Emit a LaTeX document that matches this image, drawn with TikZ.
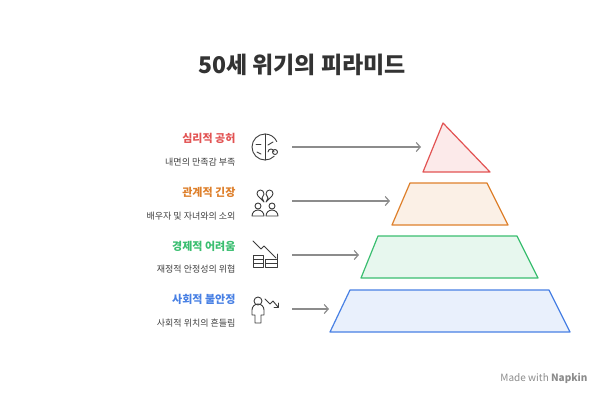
\documentclass[tikz,border=0pt]{standalone}
\usepackage{fontspec}
\setmainfont{Noto Sans CJK KR}
\usetikzlibrary{arrows.meta}
\definecolor{psyred}{RGB}{226,83,83}
\definecolor{relorange}{RGB}{222,128,44}
\definecolor{ecogreen}{RGB}{58,190,112}
\definecolor{socblue}{RGB}{72,128,228}
\definecolor{icongray}{RGB}{60,60,60}
\tikzset{
  heading/.style={anchor=east, font=\fontsize{11}{12}\selectfont\bfseries},
  subtext/.style={anchor=east, font=\fontsize{9}{10}\selectfont, text=black!75},
  pointer/.style={draw=black!45, line width=1.2pt, -{Straight Barb[length=4pt,width=9pt]}},
  icon/.style={draw=icongray, line width=0.9pt, line cap=round, line join=round}
}
\begin{document}
\begin{tikzpicture}[x=1pt,y=-1pt]
\useasboundingbox (0,0) rectangle (605,405);

\node [text=black!80] (title) at (302,65) {\fontsize{23}{26}\selectfont\bfseries 50세 위기의 피라미드};

% pyramid levels
\draw [psyred, line width=1.2pt, fill=psyred!12, line join=round]
  (443,123) -- (490,172) -- (423,172) -- cycle;
\draw [relorange, line width=1.2pt, fill=relorange!12, line join=round]
  (410,183) -- (487,183) -- (508,225) -- (392,225) -- cycle;
\draw [ecogreen, line width=1.2pt, fill=ecogreen!12, line join=round]
  (378,236) -- (517,236) -- (538,278) -- (361,278) -- cycle;
\draw [socblue, line width=1.2pt, fill=socblue!12, line join=round]
  (350,290) -- (549,290) -- (570,332) -- (330,332) -- cycle;

\coordinate (lvl1) at (421,147);
\coordinate (lvl2) at (390,201);
\coordinate (lvl3) at (359,255);
\coordinate (lvl4) at (329,309);

% labels
\node [heading, text=psyred] (psy) at (239,138) {심리적 공허};
\node [subtext] (psysub) at (239,162) {내면의 만족감 부족};
\node [heading, text=relorange] (rel) at (239,192) {관계적 긴장};
\node [subtext] (relsub) at (239,216) {배우자 및 자녀와의 소외};
\node [heading, text=ecogreen] (eco) at (239,246) {경제적 어려움};
\node [subtext] (ecosub) at (239,269) {재정적 안정성의 위협};
\node [heading, text=socblue] (soc) at (239,299) {사회적 불안정};
\node [subtext] (socsub) at (239,323) {사회적 위치의 흔들림};

% icons (drawn y-up around each centre)
\begin{scope}[shift={(265,147)}, yscale=-1]
  \draw [icon] (0,13) arc (90:270:13);
  \draw [icon] (0,13) -- (0,-13);
  \draw [icon] (0,13) arc (90:25:13);
  \draw [icon] (0,-13) arc (-90:-45:13);
  \draw [icon] (-9,3) -- (-4,3);
  \draw [icon] (-8,-5) -- (-4,-7);
  \draw [icon] (3,2) -- (8,5);
  \draw [icon] (3,-5) arc (180:0:3);
  \draw [icon] (10,-5) circle (2.5);
\end{scope}
\begin{scope}[shift={(265,201)}, yscale=-1]
  \draw [icon] (-1,-1) -- (-7,5) arc (225:45:3.5) -- (-1,7) -- (-3,3) -- cycle;
  \draw [icon] (1,-1) -- (7,5) arc (-45:135:3.5) -- (1,7) -- (3,3) -- cycle;
  \draw [icon] (-7,-5) circle (3);
  \draw [icon] (-13,-15) arc (180:0:6) -- cycle;
  \draw [icon] (7,-5) circle (3);
  \draw [icon] (1,-15) arc (180:0:6) -- cycle;
\end{scope}
\begin{scope}[shift={(265,255)}, yscale=-1]
  \draw [icon] (-12,14) -- (-4,6) -- (-1,9) -- (11,-3);
  \draw [icon] (7,-4) -- (12,-4) -- (12,1);
  \foreach \k in {0,1,2} {
    \draw [icon] (-12,-4-4*\k) rectangle ++(10,3.5);
  }
  \draw [icon] (0,-12) rectangle ++(12,3.5);
  \draw [icon] (0,-8) rectangle ++(12,3.5);
\end{scope}
\begin{scope}[shift={(265,309)}, yscale=-1]
  \draw [icon] (-7,8) circle (4);
  \draw [icon] (-13,-6) -- (-13,-1) arc (180:0:6) -- (-1,-6) -- (-4,-6) -- (-4,-14) -- (-10,-14) -- (-10,-6) -- cycle;
  \draw [icon] (0,10) -- (5,5) -- (8,8) -- (13,2);
  \draw [icon] (9,2) -- (13,2) -- (13,6);
\end{scope}

% connectors
\draw [pointer] (292,147) -- (lvl1);
\draw [pointer] (292,201) -- (lvl2);
\draw [pointer] (292,255) -- (lvl3);
\draw [pointer] (292,309) -- (lvl4);

\node [anchor=east, text=black!45, font=\fontsize{10}{11}\selectfont] (brand) at (591,378) {Made with \textbf{Napkin}};
\end{tikzpicture}
\end{document}
